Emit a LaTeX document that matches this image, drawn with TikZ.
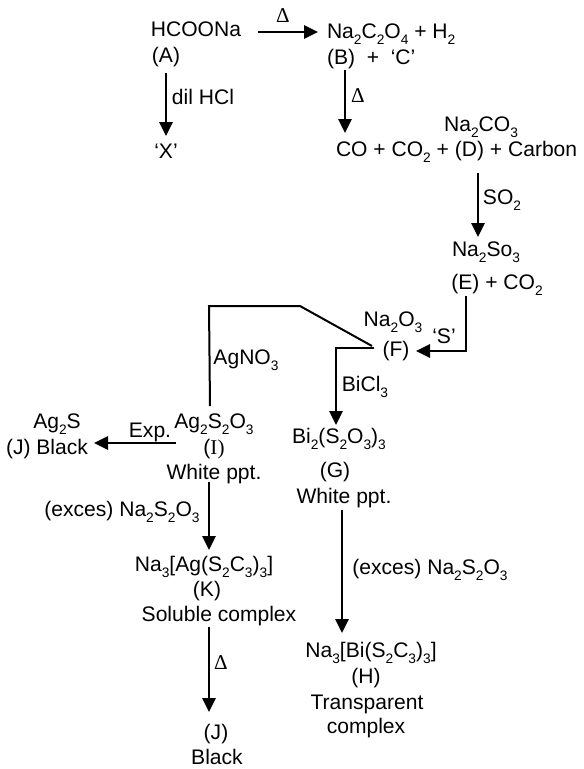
\documentclass[tikz,border=0pt]{standalone}
\usepackage{fontspec}
\setmainfont{Liberation Sans}
\newfontfamily\serifdelta{Liberation Serif}
\usetikzlibrary{arrows.meta}
\newcommand{\sbs}[1]{\raisebox{-0.28em}{\fontsize{10.3pt}{11pt}\selectfont #1}}
\tikzset{
  x=0.75pt,y=-0.75pt,
  lbl/.style={inner sep=0pt,outer sep=0pt,font=\fontsize{15.8pt}{17pt}\selectfont,text height=0.72em,text depth=0.2em},
  lft/.style={lbl,anchor=west},
  conn/.style={line width=1.5pt,black},
  arr/.style={conn,-{Triangle[length=10.5pt,width=10pt]}},
  sh/.style={shift={#1}},
}
\begin{document}
\begin{tikzpicture}
\useasboundingbox (0,0) rectangle (584,769);
\begin{scope}[yshift=-2.25pt]
\node[lbl] (A1) at (196,30) {HCOONa};
\node[lbl] (A) at (166,56) {(A)};
\node[lbl] (dil) at (203,98) {dil HCl};
\node[lbl] (X) at (166,152) {‘X’};
\node[lbl] (d1) at (283,16) {\serifdelta Δ};
\node[lft] (B1) at (327,32) {Na\sbs{2}C\sbs{2}O\sbs{4} + H\sbs{2}};
\node[lft] (B) at (327,58) {(B)\ \ +\ \ ‘C’};
\node[lbl] (d2) at (358,96) {\serifdelta Δ};
\node[lbl] (D1) at (481,125) {Na\sbs{2}CO\sbs{3}};
\node[lft] (D) at (336,150) {CO + CO\sbs{2} + (D) + Carbon};
\node[lbl] (so2) at (502,198) {SO\sbs{2}};
\node[lbl] (E1) at (486,250) {Na\sbs{2}So\sbs{3}};
\node[lbl] (E) at (497,283) {(E) + CO\sbs{2}};
\node[lbl] (F1) at (393,320) {Na\sbs{2}O\sbs{3}};
\node[lbl] (s) at (444,337) {‘S’};
\node[lbl] (F) at (396,350) {(F)};
\node[lbl] (agno) at (246,358) {AgNO\sbs{3}};
\node[lbl] (bicl) at (365,385) {BiCl\sbs{3}};
\node[lbl] (J1) at (57,422) {Ag\sbs{2}S};
\node[lbl] (J) at (47,448) {(J) Black};
\node[lbl] (exp) at (150,431) {Exp.};
\node[lbl] (I1) at (214,422) {Ag\sbs{2}S\sbs{2}O\sbs{3}};
\node[lbl] (I) at (214,448) {(\serifdelta I)};
\node[lbl] (I2) at (214,473) {White ppt.};
\node[lbl] (G1) at (339,437) {Bi\sbs{2}(S\sbs{2}O\sbs{3})\sbs{3}};
\node[lbl] (G) at (335,471) {(G)};
\node[lbl] (G2) at (344,497) {White ppt.};
\node[lbl] (ex1) at (122,510) {(exces) Na\sbs{2}S\sbs{2}O\sbs{3}};
\node[lbl] (K1) at (204,565) {Na\sbs{3}[Ag(S\sbs{2}C\sbs{3})\sbs{3}]};
\node[lbl] (K) at (207,590) {(K)};
\node[lbl] (K2) at (219,615) {Soluble complex};
\node[lbl] (d3) at (221,663) {\serifdelta Δ};
\node[lbl] (J2) at (216,733) {(J)};
\node[lbl] (J3) at (217,758) {Black};
\node[lbl] (ex2) at (430,568) {(exces) Na\sbs{2}S\sbs{2}O\sbs{3}};
\node[lbl] (H1) at (371,651) {Na\sbs{3}[Bi(S\sbs{2}C\sbs{3})\sbs{3}]};
\node[lbl] (H) at (366,677) {(H)};
\node[lbl] (H2) at (367,703) {Transparent};
\node[lbl] (H3) at (366,727) {complex};
\end{scope}
\coordinate (ca) at (466,351);
\coordinate (cb) at (336,348);
\coordinate (cc) at (300,306);
\coordinate (cd) at (209,306);
\draw[arr] ([sh={(0,14)}]A.center) -- ([sh={(0,-19)}]X.center);
\draw[arr] ([sh={(62,-1)}]A1.center) -- ([sh={(-9,-3)}]B1.west);
\draw[arr] ([sh={(18,9)}]B.west) -- ([sh={(9,-20)}]D.west);
\draw[arr] ([sh={(142,20)}]D.west) -- ([sh={(-8,-16)}]E1.center);
\draw[arr] ([sh={(-31,10)}]E.center) -- (ca) -- ([sh={(20,-2)}]F.center);
\draw[arr] ([sh={(-22,-5)}]F.center) -- (cb) -- ([sh={(-3,-15)}]G1.center);
\draw[conn] ([sh={(-24,-7)}]F.center) -- (cc) -- (cd) -- ([sh={(-4,-19)}]I1.center);
\draw[arr] ([sh={(-38,18)}]I1.center) -- ([sh={(47,-8)}]J.center);
\draw[arr] ([sh={(-5,6)}]I2.center) -- ([sh={(5,-18)}]K1.center);
\draw[arr] ([sh={(-10,9)}]K2.center) -- ([sh={(-7,-24)}]J2.center);
\draw[arr] ([sh={(-2,10)}]G2.center) -- ([sh={(-29,-21)}]H1.center);
\end{tikzpicture}
\end{document}
